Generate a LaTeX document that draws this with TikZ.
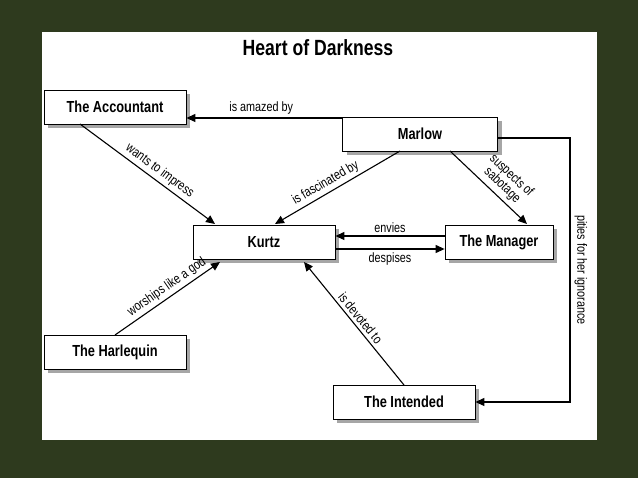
\documentclass[tikz,border=0pt]{standalone}
\usepackage{fontspec}
\setmainfont{Liberation Sans}[FakeStretch=0.8]
\usetikzlibrary{arrows.meta,shadows}
\definecolor{forest}{HTML}{2E3A1E}
\begin{document}
\begin{tikzpicture}[x=1pt,y=-1pt,
 box/.style={draw=black,fill=white,line width=0.8pt,minimum width=142pt,minimum height=34pt,font=\bfseries\fontsize{16}{16}\selectfont,drop shadow={shadow xshift=4pt,shadow yshift=-4pt,fill=gray!70,opacity=1}},
 arr/.style={-{Triangle[length=9pt,width=8pt]},line width=1.1pt},
 lab/.style={font=\fontsize{13.5}{13.5}\selectfont,inner sep=1pt}]
\fill[forest] (0,0) rectangle (638,478);
\fill[white] (42,32) rectangle (597,440);
\node[font=\bfseries\fontsize{22}{22}\selectfont] (title) at (318,48) {Heart of Darkness};
\node[box] (acc) at (115,107) {The Accountant};
\node[box,minimum width=155pt] (mar) at (420,134) {Marlow};
\node[box] (kur) at (264,242) {Kurtz};
\node[box,minimum width=108pt] (man) at (499,242) {The Manager};
\node[box] (har) at (115,352) {The Harlequin};
\node[box] (int) at (404,402) {The Intended};
\draw[arr] (mar.west|-0,118) -- (acc.east|-0,118) node[lab,midway,above=2pt,xshift=-3pt] {is amazed by};
\draw[arr] (80,124) -- (215,224) node[lab,midway,sloped,above=2pt,xshift=8pt] {wants to impress};
\draw[arr] (400,151) -- (275,224) node[lab,midway,sloped,above=2pt,xshift=-8pt] {is fascinated by};
\draw[arr] (450,151) -- (527,224) node[lab,pos=0.58,sloped,above=3pt,align=center] {suspects of\\sabotage};
\draw[arr] (man.west|-0,236) -- (kur.east|-0,236) node[lab,midway,above=2pt] {envies};
\draw[arr] (kur.east|-0,249) -- (man.west|-0,249) node[lab,midway,below=2pt] {despises};
\draw[arr] (115,335) -- (220,262) node[lab,midway,sloped,above=2pt,xshift=6pt] {worships like a god};
\draw[arr] (404,385) -- (304,262) node[lab,midway,sloped,above=2pt] {is devoted to};
\draw[arr] (mar.east|-0,138) -- (570,138) -- (570,402) node[lab,pos=0.5,sloped,above=3pt] {pities for her ignorance} -- (int.east|-0,402);
\end{tikzpicture}
\end{document}
